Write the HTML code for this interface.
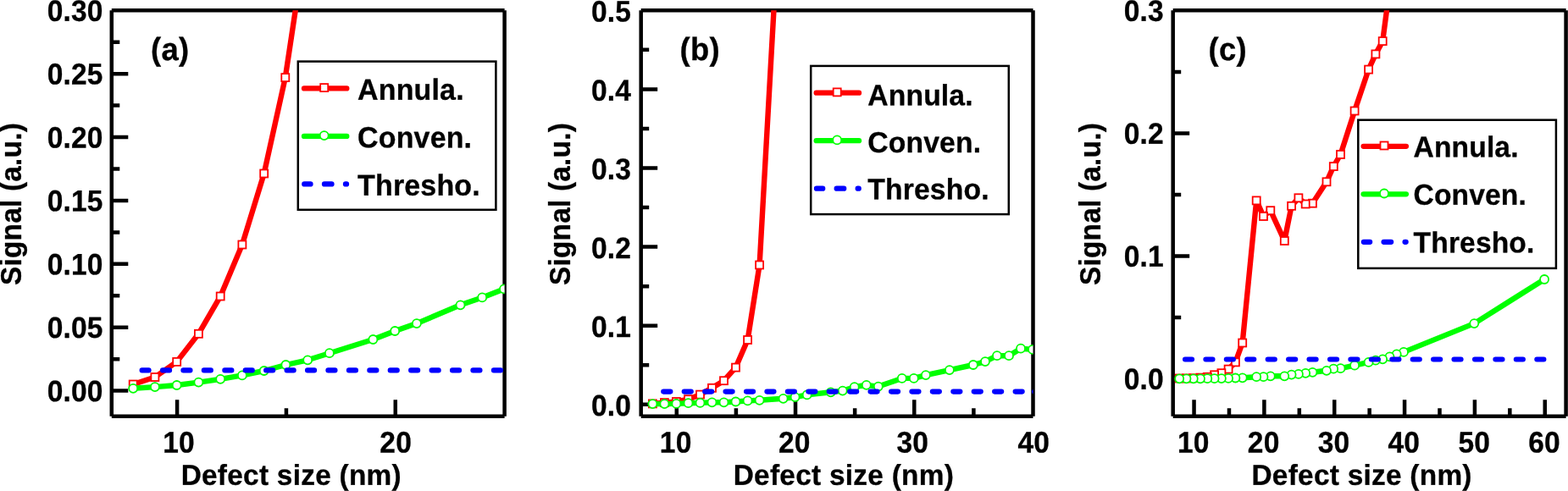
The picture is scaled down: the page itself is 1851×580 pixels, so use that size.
<!DOCTYPE html>
<html lang="en"><head><meta charset="utf-8"><title>Signal vs defect size</title>
<style>html,body{margin:0;padding:0;background:#fff}svg{display:block}text{font-family:"Liberation Sans", sans-serif;font-weight:bold;fill:#000;stroke:#000;stroke-linejoin:round}.tk{font-size:33.5px;stroke-width:0.3px;letter-spacing:0.2px}.ti{font-size:33.4px;stroke-width:0.3px;letter-spacing:0.27px}.yl{font-size:33.3px;stroke-width:0.3px;letter-spacing:0.25px}.tg{font-size:36.4px;stroke-width:0.3px;letter-spacing:0.35px}.lga{font-size:34.0px;stroke-width:0.3px;letter-spacing:0.15px}.lgb{font-size:33.7px;stroke-width:0.3px;letter-spacing:0.15px}.lgc{font-size:33.6px;stroke-width:0.3px;letter-spacing:0.12px}</style></head><body>
<svg width="1851" height="580" viewBox="0 0 1851 580">
<rect width="1851" height="580" fill="#fff"/>
<g id="p1">
<path d="M131.80 12.30H595.60M595.60 12.30V491.80M595.60 491.80H131.80M131.80 491.80V12.30M209.10 491.80V472.30M466.77 491.80V472.30M337.93 491.80V482.30M131.80 461.60H151.30M131.80 386.71H151.30M131.80 311.82H151.30M131.80 236.93H151.30M131.80 162.04H151.30M131.80 87.15H151.30M131.80 424.16H141.30M131.80 349.27H141.30M131.80 274.38H141.30M131.80 199.49H141.30M131.80 124.60H141.30M131.80 49.70H141.30" stroke="#000" stroke-width="4.5" fill="none"/>
<text class="tk" transform="translate(211.10 534.60) rotate(0.03) scale(1 1.05)" text-anchor="middle">10</text>
<text class="tk" transform="translate(467.17 534.60) rotate(0.03) scale(1 1.05)" text-anchor="middle">20</text>
<text class="tk" transform="translate(121.60 474.00) rotate(0.03) scale(1 1.05)" text-anchor="end">0.00</text>
<text class="tk" transform="translate(121.60 399.11) rotate(0.03) scale(1 1.05)" text-anchor="end">0.05</text>
<text class="tk" transform="translate(121.60 324.22) rotate(0.03) scale(1 1.05)" text-anchor="end">0.10</text>
<text class="tk" transform="translate(121.60 249.33) rotate(0.03) scale(1 1.05)" text-anchor="end">0.15</text>
<text class="tk" transform="translate(121.60 174.44) rotate(0.03) scale(1 1.05)" text-anchor="end">0.20</text>
<text class="tk" transform="translate(121.60 99.55) rotate(0.03) scale(1 1.05)" text-anchor="end">0.25</text>
<text class="tk" transform="translate(121.60 24.66) rotate(0.03) scale(1 1.05)" text-anchor="end">0.30</text>
<text class="ti" transform="translate(343.80 572.70) rotate(0.03) scale(1 1.022)" text-anchor="middle">Defect size (nm)</text>
<text class="yl" transform="translate(25.00 241.00) rotate(-90) scale(1 1.03)" text-anchor="middle">Signal (a.u.)</text>
<text class="tg" transform="translate(178.00 71.00) rotate(0.03) scale(1 1.04)">(a)</text>
<clipPath id="c1"><rect x="131.80" y="12.30" width="463.80" height="479.50"/></clipPath>
<g clip-path="url(#c1)">
<polyline points="157.2,454.0 182.9,445.5 208.7,427.4 234.4,394.3 260.2,350.0 285.9,289.0 311.7,205.0 336.8,91.6 363.2,-84.0" fill="none" stroke="#ff0000" stroke-width="6.4" stroke-linejoin="round"/>
<rect x="332.3" y="87.1" width="9.0" height="9.0" fill="#fff" stroke="#ff0000" stroke-width="1.8"/>
<rect x="307.2" y="200.5" width="9.0" height="9.0" fill="#fff" stroke="#ff0000" stroke-width="1.8"/>
<rect x="281.4" y="284.5" width="9.0" height="9.0" fill="#fff" stroke="#ff0000" stroke-width="1.8"/>
<rect x="255.7" y="345.5" width="9.0" height="9.0" fill="#fff" stroke="#ff0000" stroke-width="1.8"/>
<rect x="229.9" y="389.8" width="9.0" height="9.0" fill="#fff" stroke="#ff0000" stroke-width="1.8"/>
<rect x="204.2" y="422.9" width="9.0" height="9.0" fill="#fff" stroke="#ff0000" stroke-width="1.8"/>
<rect x="178.4" y="441.0" width="9.0" height="9.0" fill="#fff" stroke="#ff0000" stroke-width="1.8"/>
<rect x="152.7" y="449.5" width="9.0" height="9.0" fill="#fff" stroke="#ff0000" stroke-width="1.8"/>
<polyline points="157.2,458.8 182.9,457.1 208.7,455.0 234.4,451.6 260.2,447.8 285.9,443.4 311.7,438.0 337.4,431.0 363.2,425.3 388.9,417.2 440.4,401.0 466.2,391.0 491.9,382.1 543.5,360.3 569.2,351.4 595.0,341.4" fill="none" stroke="#00ff00" stroke-width="6.4" stroke-linejoin="round"/>
<circle cx="595.0" cy="341.4" r="5.0" fill="#fff" stroke="#00ff00" stroke-width="1.8"/>
<circle cx="569.2" cy="351.4" r="5.0" fill="#fff" stroke="#00ff00" stroke-width="1.8"/>
<circle cx="543.5" cy="360.3" r="5.0" fill="#fff" stroke="#00ff00" stroke-width="1.8"/>
<circle cx="491.9" cy="382.1" r="5.0" fill="#fff" stroke="#00ff00" stroke-width="1.8"/>
<circle cx="466.2" cy="391.0" r="5.0" fill="#fff" stroke="#00ff00" stroke-width="1.8"/>
<circle cx="440.4" cy="401.0" r="5.0" fill="#fff" stroke="#00ff00" stroke-width="1.8"/>
<circle cx="388.9" cy="417.2" r="5.0" fill="#fff" stroke="#00ff00" stroke-width="1.8"/>
<circle cx="363.2" cy="425.3" r="5.0" fill="#fff" stroke="#00ff00" stroke-width="1.8"/>
<circle cx="337.4" cy="431.0" r="5.0" fill="#fff" stroke="#00ff00" stroke-width="1.8"/>
<circle cx="311.7" cy="438.0" r="5.0" fill="#fff" stroke="#00ff00" stroke-width="1.8"/>
<circle cx="285.9" cy="443.4" r="5.0" fill="#fff" stroke="#00ff00" stroke-width="1.8"/>
<circle cx="260.2" cy="447.8" r="5.0" fill="#fff" stroke="#00ff00" stroke-width="1.8"/>
<circle cx="234.4" cy="451.6" r="5.0" fill="#fff" stroke="#00ff00" stroke-width="1.8"/>
<circle cx="208.7" cy="455.0" r="5.0" fill="#fff" stroke="#00ff00" stroke-width="1.8"/>
<circle cx="182.9" cy="457.1" r="5.0" fill="#fff" stroke="#00ff00" stroke-width="1.8"/>
<circle cx="157.2" cy="458.8" r="5.0" fill="#fff" stroke="#00ff00" stroke-width="1.8"/>
<path d="M167.6 437.4H175.6M192.0 437.4H200.1M216.4 437.4H224.5M240.8 437.4H248.9M265.3 437.4H273.4M289.7 437.4H297.8M314.1 437.4H322.2M338.6 437.4H346.7M363.0 437.4H371.1M387.4 437.4H395.5M411.9 437.4H420.0M436.3 437.4H444.4M460.7 437.4H468.8M485.1 437.4H493.2M509.6 437.4H517.7M534.0 437.4H542.1M558.4 437.4H566.5M582.9 437.4H591.0" stroke="#0000ff" stroke-width="6.1" stroke-linecap="round" fill="none"/>
</g>
<g transform="translate(351.80 72.60)">
<rect x="0" y="0" width="233.6" height="175.2" fill="#fff" stroke="#000" stroke-width="2.5"/>
<path d="M7.2 31.8H57.5" stroke="#ff0000" stroke-width="6.3" stroke-linecap="round" fill="none"/>
<rect x="26.4" y="26.5" width="9.0" height="9.0" fill="#fff" stroke="#ff0000" stroke-width="1.8"/>
<text class="lga" transform="translate(70.30 45.10) rotate(0.03) scale(1 1.025)">Annula.</text>
<path d="M7.2 88.3H57.5" stroke="#00ff00" stroke-width="6.3" stroke-linecap="round" fill="none"/>
<circle cx="30.9" cy="87.5" r="5.0" fill="#fff" stroke="#00ff00" stroke-width="1.8"/>
<text class="lga" transform="translate(70.30 101.60) rotate(0.03) scale(1 1.025)">Conven.</text>
<path transform="translate(-0.3 0)" d="M7.8 144.8h7.2M31.5 144.8h8.5M56.5 144.8h1" stroke="#0000ff" stroke-width="6.3" stroke-linecap="round" fill="none"/>
<text class="lga" transform="translate(70.30 158.10) rotate(0.03) scale(1 1.025)">Thresho.</text>
</g>
</g>
<g id="p2">
<path d="M756.70 12.30H1219.50M1219.50 12.30V491.80M1219.50 491.80H756.70M756.70 491.80V12.30M798.77 491.80V472.30M939.02 491.80V472.30M1079.26 491.80V472.30M868.89 491.80V482.30M1009.14 491.80V482.30M1149.38 491.80V482.30M756.70 477.80H776.20M756.70 384.70H776.20M756.70 291.60H776.20M756.70 198.50H776.20M756.70 105.40H776.20M756.70 431.25H766.20M756.70 338.15H766.20M756.70 245.05H766.20M756.70 151.95H766.20M756.70 58.85H766.20" stroke="#000" stroke-width="4.5" fill="none"/>
<text class="tk" transform="translate(797.67 534.60) rotate(0.03) scale(1 1.05)" text-anchor="middle">10</text>
<text class="tk" transform="translate(937.82 534.60) rotate(0.03) scale(1 1.05)" text-anchor="middle">20</text>
<text class="tk" transform="translate(1077.36 534.60) rotate(0.03) scale(1 1.05)" text-anchor="middle">30</text>
<text class="tk" transform="translate(1220.30 534.60) rotate(0.03) scale(1 1.05)" text-anchor="middle">40</text>
<text class="tk" transform="translate(745.20 491.10) rotate(0.03) scale(1 1.05)" text-anchor="end">0.0</text>
<text class="tk" transform="translate(745.20 398.00) rotate(0.03) scale(1 1.05)" text-anchor="end">0.1</text>
<text class="tk" transform="translate(745.20 304.90) rotate(0.03) scale(1 1.05)" text-anchor="end">0.2</text>
<text class="tk" transform="translate(745.20 211.80) rotate(0.03) scale(1 1.05)" text-anchor="end">0.3</text>
<text class="tk" transform="translate(745.20 118.70) rotate(0.03) scale(1 1.05)" text-anchor="end">0.4</text>
<text class="tk" transform="translate(745.20 25.60) rotate(0.03) scale(1 1.05)" text-anchor="end">0.5</text>
<text class="ti" transform="translate(995.90 572.70) rotate(0.03) scale(1 1.022)" text-anchor="middle">Defect size (nm)</text>
<text class="yl" transform="translate(673.00 241.00) rotate(-90) scale(1 1.03)" text-anchor="middle">Signal (a.u.)</text>
<text class="tg" transform="translate(802.50 71.00) rotate(0.03) scale(1 1.04)">(b)</text>
<clipPath id="c2"><rect x="756.70" y="12.30" width="462.80" height="479.50"/></clipPath>
<g clip-path="url(#c2)">
<polyline points="770.4,476.9 784.4,475.6 798.4,474.5 812.5,471.7 826.5,466.1 840.5,458.3 854.5,449.7 868.5,434.1 882.6,401.5 896.6,313.0 924.6,-186.0" fill="none" stroke="#ff0000" stroke-width="6.4" stroke-linejoin="round"/>
<rect x="892.1" y="308.5" width="9.0" height="9.0" fill="#fff" stroke="#ff0000" stroke-width="1.8"/>
<rect x="878.1" y="397.0" width="9.0" height="9.0" fill="#fff" stroke="#ff0000" stroke-width="1.8"/>
<rect x="864.0" y="429.6" width="9.0" height="9.0" fill="#fff" stroke="#ff0000" stroke-width="1.8"/>
<rect x="850.0" y="445.2" width="9.0" height="9.0" fill="#fff" stroke="#ff0000" stroke-width="1.8"/>
<rect x="836.0" y="453.8" width="9.0" height="9.0" fill="#fff" stroke="#ff0000" stroke-width="1.8"/>
<rect x="822.0" y="461.6" width="9.0" height="9.0" fill="#fff" stroke="#ff0000" stroke-width="1.8"/>
<rect x="808.0" y="467.2" width="9.0" height="9.0" fill="#fff" stroke="#ff0000" stroke-width="1.8"/>
<rect x="793.9" y="470.0" width="9.0" height="9.0" fill="#fff" stroke="#ff0000" stroke-width="1.8"/>
<rect x="779.9" y="471.1" width="9.0" height="9.0" fill="#fff" stroke="#ff0000" stroke-width="1.8"/>
<rect x="765.9" y="472.4" width="9.0" height="9.0" fill="#fff" stroke="#ff0000" stroke-width="1.8"/>
<polyline points="770.4,477.1 784.4,477.1 798.4,476.9 812.5,476.2 826.5,475.9 840.5,475.3 854.5,475.3 868.5,474.5 882.6,473.4 896.6,472.8 924.6,470.8 938.6,469.1 952.7,466.4 980.7,463.3 994.7,461.6 1008.7,457.2 1022.8,454.8 1036.8,456.6 1064.8,446.9 1078.8,446.9 1092.9,443.1 1120.9,437.1 1148.9,431.0 1163.0,427.1 1177.0,420.2 1191.0,420.2 1205.0,411.7 1219.0,412.9" fill="none" stroke="#00ff00" stroke-width="6.4" stroke-linejoin="round"/>
<circle cx="1219.0" cy="412.9" r="5.0" fill="#fff" stroke="#00ff00" stroke-width="1.8"/>
<circle cx="1205.0" cy="411.7" r="5.0" fill="#fff" stroke="#00ff00" stroke-width="1.8"/>
<circle cx="1191.0" cy="420.2" r="5.0" fill="#fff" stroke="#00ff00" stroke-width="1.8"/>
<circle cx="1177.0" cy="420.2" r="5.0" fill="#fff" stroke="#00ff00" stroke-width="1.8"/>
<circle cx="1163.0" cy="427.1" r="5.0" fill="#fff" stroke="#00ff00" stroke-width="1.8"/>
<circle cx="1148.9" cy="431.0" r="5.0" fill="#fff" stroke="#00ff00" stroke-width="1.8"/>
<circle cx="1120.9" cy="437.1" r="5.0" fill="#fff" stroke="#00ff00" stroke-width="1.8"/>
<circle cx="1092.9" cy="443.1" r="5.0" fill="#fff" stroke="#00ff00" stroke-width="1.8"/>
<circle cx="1078.8" cy="446.9" r="5.0" fill="#fff" stroke="#00ff00" stroke-width="1.8"/>
<circle cx="1064.8" cy="446.9" r="5.0" fill="#fff" stroke="#00ff00" stroke-width="1.8"/>
<circle cx="1036.8" cy="456.6" r="5.0" fill="#fff" stroke="#00ff00" stroke-width="1.8"/>
<circle cx="1022.8" cy="454.8" r="5.0" fill="#fff" stroke="#00ff00" stroke-width="1.8"/>
<circle cx="1008.7" cy="457.2" r="5.0" fill="#fff" stroke="#00ff00" stroke-width="1.8"/>
<circle cx="994.7" cy="461.6" r="5.0" fill="#fff" stroke="#00ff00" stroke-width="1.8"/>
<circle cx="980.7" cy="463.3" r="5.0" fill="#fff" stroke="#00ff00" stroke-width="1.8"/>
<circle cx="952.7" cy="466.4" r="5.0" fill="#fff" stroke="#00ff00" stroke-width="1.8"/>
<circle cx="938.6" cy="469.1" r="5.0" fill="#fff" stroke="#00ff00" stroke-width="1.8"/>
<circle cx="924.6" cy="470.8" r="5.0" fill="#fff" stroke="#00ff00" stroke-width="1.8"/>
<circle cx="896.6" cy="472.8" r="5.0" fill="#fff" stroke="#00ff00" stroke-width="1.8"/>
<circle cx="882.6" cy="473.4" r="5.0" fill="#fff" stroke="#00ff00" stroke-width="1.8"/>
<circle cx="868.5" cy="474.5" r="5.0" fill="#fff" stroke="#00ff00" stroke-width="1.8"/>
<circle cx="854.5" cy="475.3" r="5.0" fill="#fff" stroke="#00ff00" stroke-width="1.8"/>
<circle cx="840.5" cy="475.3" r="5.0" fill="#fff" stroke="#00ff00" stroke-width="1.8"/>
<circle cx="826.5" cy="475.9" r="5.0" fill="#fff" stroke="#00ff00" stroke-width="1.8"/>
<circle cx="812.5" cy="476.2" r="5.0" fill="#fff" stroke="#00ff00" stroke-width="1.8"/>
<circle cx="798.4" cy="476.9" r="5.0" fill="#fff" stroke="#00ff00" stroke-width="1.8"/>
<circle cx="784.4" cy="477.1" r="5.0" fill="#fff" stroke="#00ff00" stroke-width="1.8"/>
<circle cx="770.4" cy="477.1" r="5.0" fill="#fff" stroke="#00ff00" stroke-width="1.8"/>
<path d="M783.2 462.6H791.4M807.7 462.6H815.8M832.1 462.6H840.2M856.5 462.6H864.6M881.0 462.6H889.1M905.4 462.6H913.5M929.8 462.6H937.9M954.3 462.6H962.4M978.7 462.6H986.8M1003.1 462.6H1011.2M1027.5 462.6H1035.6M1052.0 462.6H1060.1M1076.4 462.6H1084.5M1100.8 462.6H1108.9M1125.3 462.6H1133.4M1149.7 462.6H1157.8M1174.1 462.6H1182.2M1198.6 462.6H1206.7M1223.0 462.6H1221.0" stroke="#0000ff" stroke-width="6.1" stroke-linecap="round" fill="none"/>
</g>
<g transform="translate(957.20 77.90)">
<rect x="0" y="0" width="233.6" height="175.2" fill="#fff" stroke="#000" stroke-width="2.5"/>
<path d="M6.5 31.8H56.8" stroke="#ff0000" stroke-width="6.3" stroke-linecap="round" fill="none"/>
<rect x="26.5" y="26.5" width="9.0" height="9.0" fill="#fff" stroke="#ff0000" stroke-width="1.8"/>
<text class="lgb" transform="translate(67.00 46.30) rotate(0.03) scale(1 1.025)">Annula.</text>
<path d="M6.5 88.3H56.8" stroke="#00ff00" stroke-width="6.3" stroke-linecap="round" fill="none"/>
<circle cx="31.0" cy="87.5" r="5.0" fill="#fff" stroke="#00ff00" stroke-width="1.8"/>
<text class="lgb" transform="translate(67.00 102.10) rotate(0.03) scale(1 1.025)">Conven.</text>
<path transform="translate(-1.0 0)" d="M7.8 144.8h7.2M31.5 144.8h8.5M56.5 144.8h1" stroke="#0000ff" stroke-width="6.3" stroke-linecap="round" fill="none"/>
<text class="lgb" transform="translate(67.00 157.30) rotate(0.03) scale(1 1.025)">Thresho.</text>
</g>
</g>
<g id="p3">
<path d="M1384.70 12.30H1848.60M1848.60 12.30V491.80M1848.60 491.80H1384.70M1384.70 491.80V12.30M1409.55 491.80V472.30M1492.39 491.80V472.30M1575.23 491.80V472.30M1658.07 491.80V472.30M1740.91 491.80V472.30M1823.75 491.80V472.30M1450.97 491.80V482.30M1533.81 491.80V482.30M1616.65 491.80V482.30M1699.49 491.80V482.30M1782.33 491.80V482.30M1384.70 447.40H1404.20M1384.70 302.40H1404.20M1384.70 157.40H1404.20M1384.70 374.90H1394.20M1384.70 229.90H1394.20M1384.70 84.90H1394.20" stroke="#000" stroke-width="4.5" fill="none"/>
<text class="tk" transform="translate(1408.85 534.60) rotate(0.03) scale(1 1.05)" text-anchor="middle">10</text>
<text class="tk" transform="translate(1491.69 534.60) rotate(0.03) scale(1 1.05)" text-anchor="middle">20</text>
<text class="tk" transform="translate(1574.53 534.60) rotate(0.03) scale(1 1.05)" text-anchor="middle">30</text>
<text class="tk" transform="translate(1657.37 534.60) rotate(0.03) scale(1 1.05)" text-anchor="middle">40</text>
<text class="tk" transform="translate(1740.21 534.60) rotate(0.03) scale(1 1.05)" text-anchor="middle">50</text>
<text class="tk" transform="translate(1823.05 534.60) rotate(0.03) scale(1 1.05)" text-anchor="middle">60</text>
<text class="tk" transform="translate(1373.80 459.80) rotate(0.03) scale(1 1.05)" text-anchor="end">0.0</text>
<text class="tk" transform="translate(1373.80 314.80) rotate(0.03) scale(1 1.05)" text-anchor="end">0.1</text>
<text class="tk" transform="translate(1373.80 169.80) rotate(0.03) scale(1 1.05)" text-anchor="end">0.2</text>
<text class="tk" transform="translate(1373.80 24.80) rotate(0.03) scale(1 1.05)" text-anchor="end">0.3</text>
<text class="ti" transform="translate(1607.60 572.70) rotate(0.03) scale(1 1.022)" text-anchor="middle">Defect size (nm)</text>
<text class="yl" transform="translate(1299.00 241.00) rotate(-90) scale(1 1.03)" text-anchor="middle">Signal (a.u.)</text>
<text class="tg" transform="translate(1426.50 71.00) rotate(0.03) scale(1 1.04)">(c)</text>
<clipPath id="c3"><rect x="1384.70" y="12.30" width="463.90" height="479.50"/></clipPath>
<g clip-path="url(#c3)">
<polyline points="1392.2,447.0 1400.5,446.9 1408.8,446.7 1417.0,446.1 1425.3,445.3 1433.6,442.8 1441.9,440.7 1450.1,436.1 1458.4,427.9 1466.7,405.0 1483.2,236.9 1491.5,255.5 1499.8,248.7 1516.3,284.5 1524.6,243.3 1532.9,233.8 1541.2,241.0 1549.4,240.2 1566.0,214.8 1574.2,196.6 1582.5,182.5 1599.1,131.0 1615.6,82.1 1623.9,63.9 1632.2,48.6 1640.5,-14.3" fill="none" stroke="#ff0000" stroke-width="6.4" stroke-linejoin="round"/>
<rect x="1627.7" y="44.1" width="9.0" height="9.0" fill="#fff" stroke="#ff0000" stroke-width="1.8"/>
<rect x="1619.4" y="59.4" width="9.0" height="9.0" fill="#fff" stroke="#ff0000" stroke-width="1.8"/>
<rect x="1611.1" y="77.6" width="9.0" height="9.0" fill="#fff" stroke="#ff0000" stroke-width="1.8"/>
<rect x="1594.6" y="126.5" width="9.0" height="9.0" fill="#fff" stroke="#ff0000" stroke-width="1.8"/>
<rect x="1578.0" y="178.0" width="9.0" height="9.0" fill="#fff" stroke="#ff0000" stroke-width="1.8"/>
<rect x="1569.8" y="192.1" width="9.0" height="9.0" fill="#fff" stroke="#ff0000" stroke-width="1.8"/>
<rect x="1561.5" y="210.3" width="9.0" height="9.0" fill="#fff" stroke="#ff0000" stroke-width="1.8"/>
<rect x="1544.9" y="235.7" width="9.0" height="9.0" fill="#fff" stroke="#ff0000" stroke-width="1.8"/>
<rect x="1536.7" y="236.5" width="9.0" height="9.0" fill="#fff" stroke="#ff0000" stroke-width="1.8"/>
<rect x="1528.4" y="229.3" width="9.0" height="9.0" fill="#fff" stroke="#ff0000" stroke-width="1.8"/>
<rect x="1520.1" y="238.8" width="9.0" height="9.0" fill="#fff" stroke="#ff0000" stroke-width="1.8"/>
<rect x="1511.8" y="280.0" width="9.0" height="9.0" fill="#fff" stroke="#ff0000" stroke-width="1.8"/>
<rect x="1495.3" y="244.2" width="9.0" height="9.0" fill="#fff" stroke="#ff0000" stroke-width="1.8"/>
<rect x="1487.0" y="251.0" width="9.0" height="9.0" fill="#fff" stroke="#ff0000" stroke-width="1.8"/>
<rect x="1478.7" y="232.4" width="9.0" height="9.0" fill="#fff" stroke="#ff0000" stroke-width="1.8"/>
<rect x="1462.2" y="400.5" width="9.0" height="9.0" fill="#fff" stroke="#ff0000" stroke-width="1.8"/>
<rect x="1453.9" y="423.4" width="9.0" height="9.0" fill="#fff" stroke="#ff0000" stroke-width="1.8"/>
<rect x="1445.6" y="431.6" width="9.0" height="9.0" fill="#fff" stroke="#ff0000" stroke-width="1.8"/>
<rect x="1437.4" y="436.2" width="9.0" height="9.0" fill="#fff" stroke="#ff0000" stroke-width="1.8"/>
<rect x="1429.1" y="438.3" width="9.0" height="9.0" fill="#fff" stroke="#ff0000" stroke-width="1.8"/>
<rect x="1420.8" y="440.8" width="9.0" height="9.0" fill="#fff" stroke="#ff0000" stroke-width="1.8"/>
<rect x="1412.5" y="441.6" width="9.0" height="9.0" fill="#fff" stroke="#ff0000" stroke-width="1.8"/>
<rect x="1404.2" y="442.2" width="9.0" height="9.0" fill="#fff" stroke="#ff0000" stroke-width="1.8"/>
<rect x="1396.0" y="442.4" width="9.0" height="9.0" fill="#fff" stroke="#ff0000" stroke-width="1.8"/>
<rect x="1387.7" y="442.5" width="9.0" height="9.0" fill="#fff" stroke="#ff0000" stroke-width="1.8"/>
<polyline points="1392.2,447.3 1400.5,447.3 1408.8,447.3 1417.0,447.3 1425.3,447.2 1433.6,447.2 1441.9,447.1 1450.1,446.9 1458.4,446.5 1466.7,446.3 1483.2,445.2 1491.5,445.2 1499.8,444.3 1516.3,444.3 1524.6,442.6 1532.9,441.9 1541.2,440.8 1549.4,439.8 1566.0,437.8 1574.2,435.7 1582.5,435.2 1599.1,431.7 1615.6,427.9 1623.9,425.7 1632.2,424.3 1640.5,421.4 1648.7,418.3 1657.0,415.9 1740.3,382.1 1823.1,330.0" fill="none" stroke="#00ff00" stroke-width="6.4" stroke-linejoin="round"/>
<circle cx="1823.1" cy="330.0" r="5.0" fill="#fff" stroke="#00ff00" stroke-width="1.8"/>
<circle cx="1740.3" cy="382.1" r="5.0" fill="#fff" stroke="#00ff00" stroke-width="1.8"/>
<circle cx="1657.0" cy="415.9" r="5.0" fill="#fff" stroke="#00ff00" stroke-width="1.8"/>
<circle cx="1648.7" cy="418.3" r="5.0" fill="#fff" stroke="#00ff00" stroke-width="1.8"/>
<circle cx="1640.5" cy="421.4" r="5.0" fill="#fff" stroke="#00ff00" stroke-width="1.8"/>
<circle cx="1632.2" cy="424.3" r="5.0" fill="#fff" stroke="#00ff00" stroke-width="1.8"/>
<circle cx="1623.9" cy="425.7" r="5.0" fill="#fff" stroke="#00ff00" stroke-width="1.8"/>
<circle cx="1615.6" cy="427.9" r="5.0" fill="#fff" stroke="#00ff00" stroke-width="1.8"/>
<circle cx="1599.1" cy="431.7" r="5.0" fill="#fff" stroke="#00ff00" stroke-width="1.8"/>
<circle cx="1582.5" cy="435.2" r="5.0" fill="#fff" stroke="#00ff00" stroke-width="1.8"/>
<circle cx="1574.2" cy="435.7" r="5.0" fill="#fff" stroke="#00ff00" stroke-width="1.8"/>
<circle cx="1566.0" cy="437.8" r="5.0" fill="#fff" stroke="#00ff00" stroke-width="1.8"/>
<circle cx="1549.4" cy="439.8" r="5.0" fill="#fff" stroke="#00ff00" stroke-width="1.8"/>
<circle cx="1541.2" cy="440.8" r="5.0" fill="#fff" stroke="#00ff00" stroke-width="1.8"/>
<circle cx="1532.9" cy="441.9" r="5.0" fill="#fff" stroke="#00ff00" stroke-width="1.8"/>
<circle cx="1524.6" cy="442.6" r="5.0" fill="#fff" stroke="#00ff00" stroke-width="1.8"/>
<circle cx="1516.3" cy="444.3" r="5.0" fill="#fff" stroke="#00ff00" stroke-width="1.8"/>
<circle cx="1499.8" cy="444.3" r="5.0" fill="#fff" stroke="#00ff00" stroke-width="1.8"/>
<circle cx="1491.5" cy="445.2" r="5.0" fill="#fff" stroke="#00ff00" stroke-width="1.8"/>
<circle cx="1483.2" cy="445.2" r="5.0" fill="#fff" stroke="#00ff00" stroke-width="1.8"/>
<circle cx="1466.7" cy="446.3" r="5.0" fill="#fff" stroke="#00ff00" stroke-width="1.8"/>
<circle cx="1458.4" cy="446.5" r="5.0" fill="#fff" stroke="#00ff00" stroke-width="1.8"/>
<circle cx="1450.1" cy="446.9" r="5.0" fill="#fff" stroke="#00ff00" stroke-width="1.8"/>
<circle cx="1441.9" cy="447.1" r="5.0" fill="#fff" stroke="#00ff00" stroke-width="1.8"/>
<circle cx="1433.6" cy="447.2" r="5.0" fill="#fff" stroke="#00ff00" stroke-width="1.8"/>
<circle cx="1425.3" cy="447.2" r="5.0" fill="#fff" stroke="#00ff00" stroke-width="1.8"/>
<circle cx="1417.0" cy="447.3" r="5.0" fill="#fff" stroke="#00ff00" stroke-width="1.8"/>
<circle cx="1408.8" cy="447.3" r="5.0" fill="#fff" stroke="#00ff00" stroke-width="1.8"/>
<circle cx="1400.5" cy="447.3" r="5.0" fill="#fff" stroke="#00ff00" stroke-width="1.8"/>
<circle cx="1392.2" cy="447.3" r="5.0" fill="#fff" stroke="#00ff00" stroke-width="1.8"/>
<path d="M1399.0 424.5H1407.1M1423.4 424.5H1431.5M1447.8 424.5H1455.9M1472.2 424.5H1480.3M1496.7 424.5H1504.8M1521.1 424.5H1529.2M1545.5 424.5H1553.6M1570.0 424.5H1578.1M1594.4 424.5H1602.5M1618.8 424.5H1626.9M1643.3 424.5H1651.4M1667.7 424.5H1675.8M1692.1 424.5H1700.2M1716.5 424.5H1724.6M1741.0 424.5H1749.1M1765.4 424.5H1773.5M1789.8 424.5H1797.9M1814.3 424.5H1822.4" stroke="#0000ff" stroke-width="6.1" stroke-linecap="round" fill="none"/>
</g>
<g transform="translate(1603.30 141.70)">
<rect x="0" y="0" width="233.6" height="175.2" fill="#fff" stroke="#000" stroke-width="2.5"/>
<path d="M6.3 31.1H56.6" stroke="#ff0000" stroke-width="6.3" stroke-linecap="round" fill="none"/>
<rect x="26.2" y="25.8" width="9.0" height="9.0" fill="#fff" stroke="#ff0000" stroke-width="1.8"/>
<text class="lgc" transform="translate(65.30 43.60) rotate(0.03) scale(1 1.025)">Annula.</text>
<path d="M6.3 87.6H56.6" stroke="#00ff00" stroke-width="6.3" stroke-linecap="round" fill="none"/>
<circle cx="30.7" cy="86.8" r="5.0" fill="#fff" stroke="#00ff00" stroke-width="1.8"/>
<text class="lgc" transform="translate(65.30 100.10) rotate(0.03) scale(1 1.025)">Conven.</text>
<path transform="translate(-1.2 0)" d="M7.8 144.1h7.2M31.5 144.1h8.5M56.5 144.1h1" stroke="#0000ff" stroke-width="6.3" stroke-linecap="round" fill="none"/>
<text class="lgc" transform="translate(65.30 156.60) rotate(0.03) scale(1 1.025)">Thresho.</text>
</g>
</g>
</svg></body></html>
